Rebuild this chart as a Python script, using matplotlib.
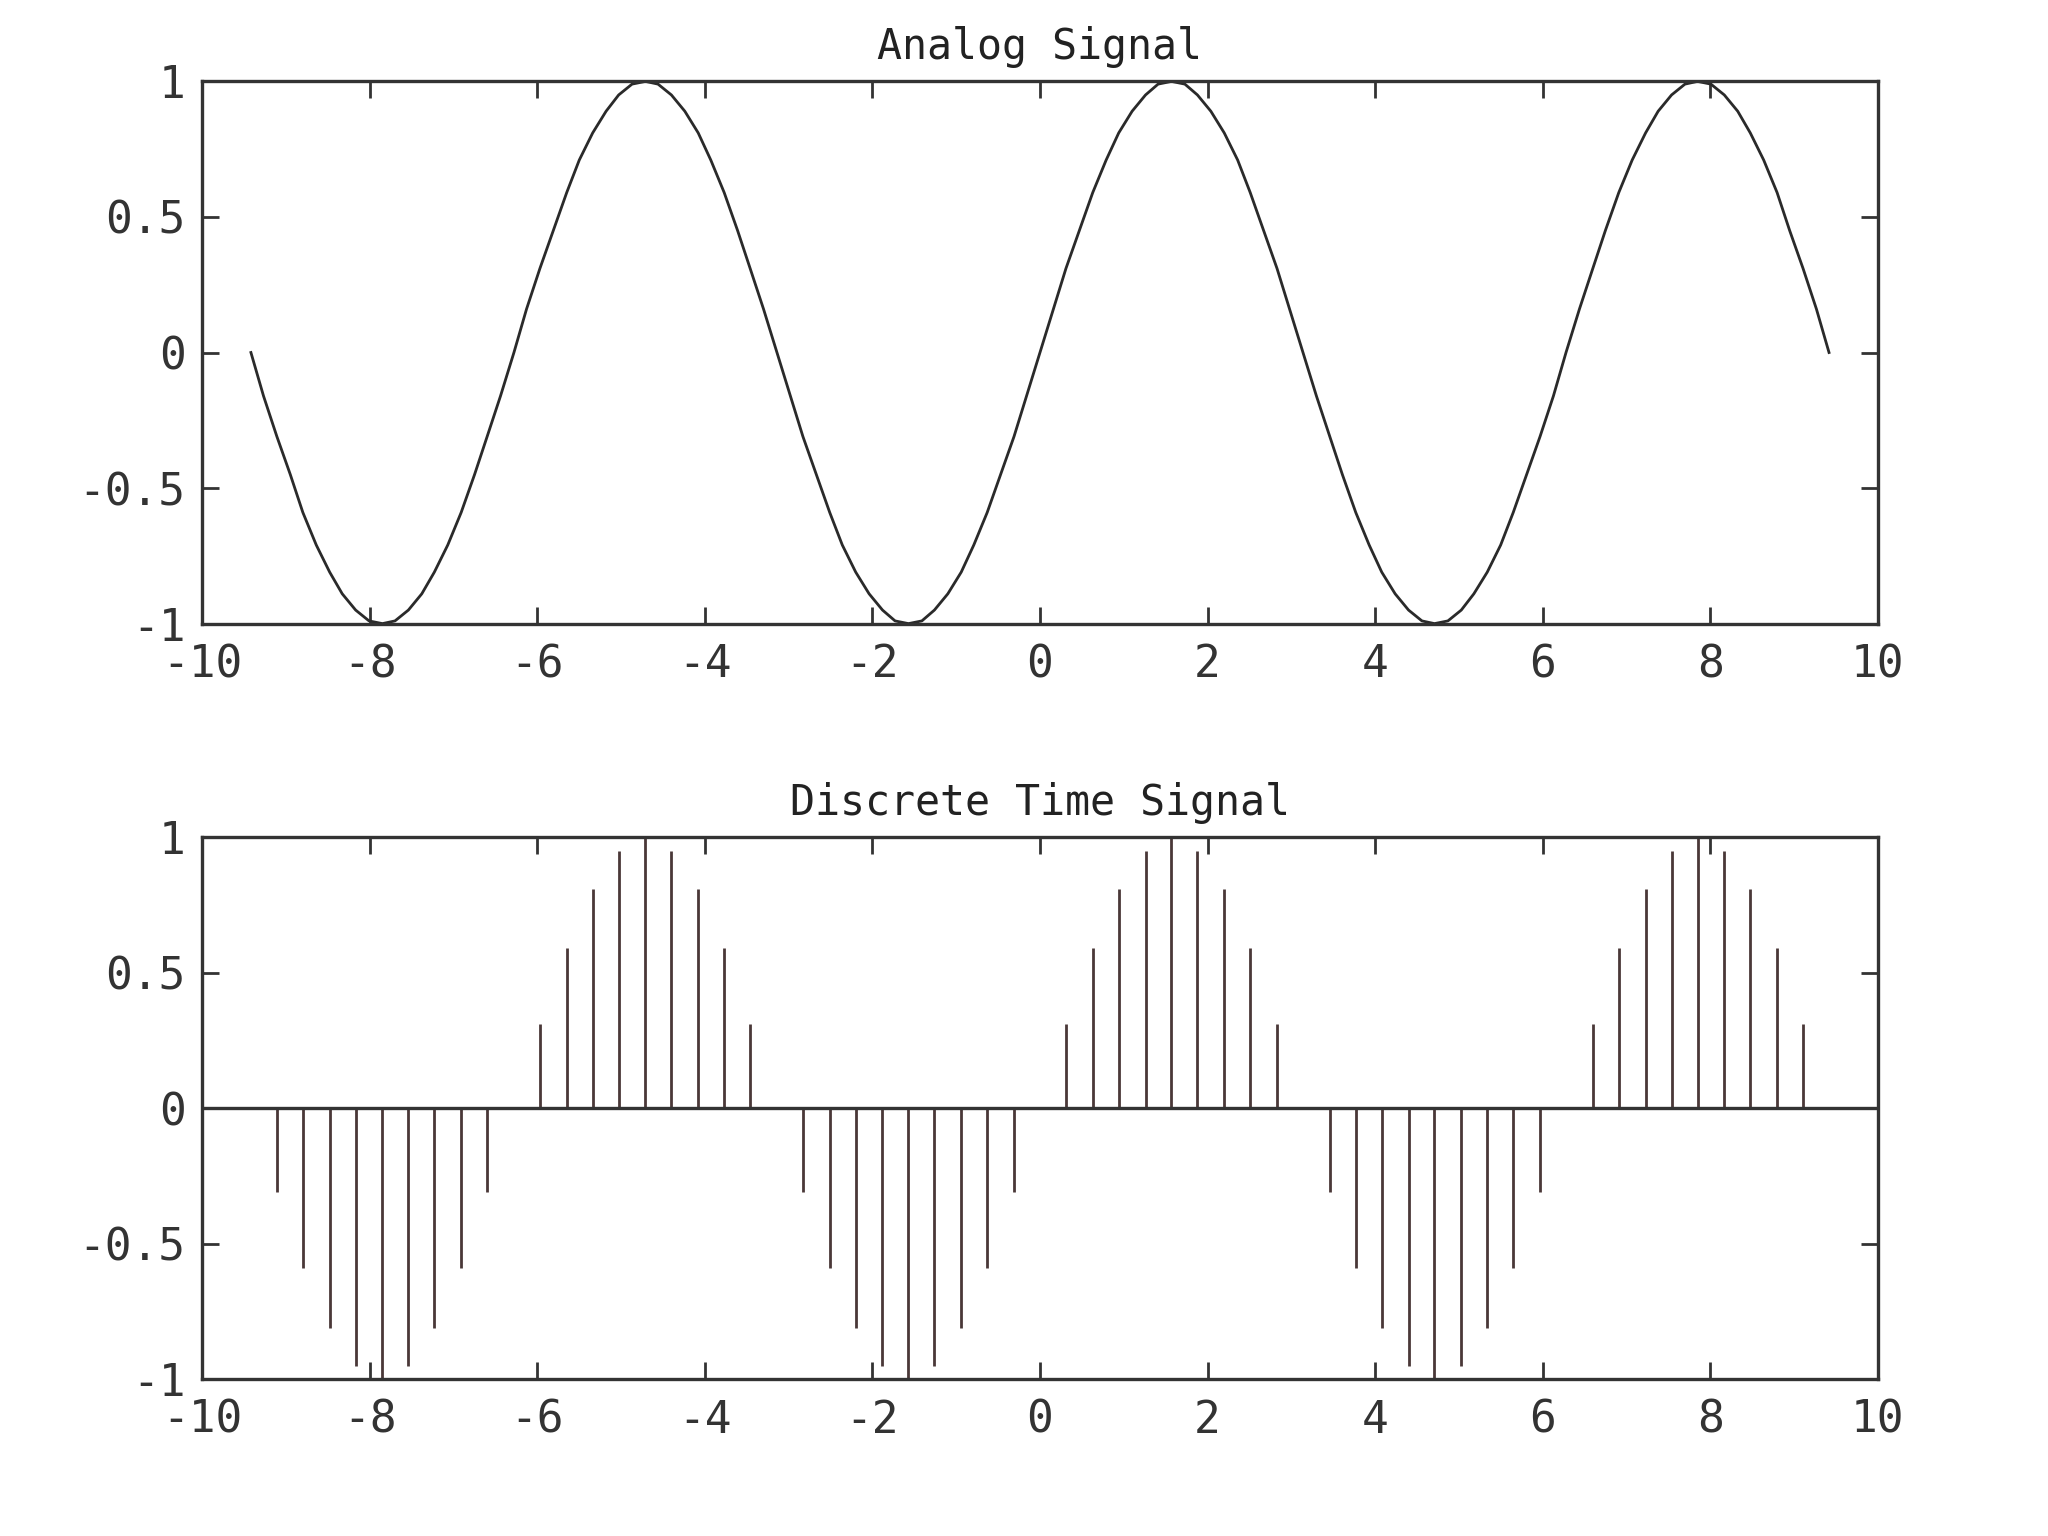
import matplotlib
matplotlib.use("Agg")
import matplotlib.pyplot as plt

# analog trace, read at steps of pi/20 from -3*pi to 3*pi
t_analog = [-9.42, -9.27, -9.11, -8.95, -8.80, -8.64, -8.48, -8.33, -8.17, -8.01,
            -7.85, -7.70, -7.54, -7.38, -7.23, -7.07, -6.91, -6.75, -6.60, -6.44,
            -6.28, -6.13, -5.97, -5.81, -5.65, -5.50, -5.34, -5.18, -5.03, -4.87,
            -4.71, -4.56, -4.40, -4.24, -4.08, -3.93, -3.77, -3.61, -3.46, -3.30,
            -3.14, -2.98, -2.83, -2.67, -2.51, -2.36, -2.20, -2.04, -1.88, -1.73,
            -1.57, -1.41, -1.26, -1.10, -0.94, -0.79, -0.63, -0.47, -0.31, -0.16,
            0.00, 0.16, 0.31, 0.47, 0.63, 0.79, 0.94, 1.10, 1.26, 1.41,
            1.57, 1.73, 1.88, 2.04, 2.20, 2.36, 2.51, 2.67, 2.83, 2.98,
            3.14, 3.30, 3.46, 3.61, 3.77, 3.93, 4.08, 4.24, 4.40, 4.56,
            4.71, 4.87, 5.03, 5.18, 5.34, 5.50, 5.65, 5.81, 5.97, 6.13,
            6.28, 6.44, 6.60, 6.75, 6.91, 7.07, 7.23, 7.38, 7.54, 7.70,
            7.85, 8.01, 8.17, 8.33, 8.48, 8.64, 8.80, 8.95, 9.11, 9.27, 9.42]
x_analog = [0.00, -0.16, -0.31, -0.45, -0.59, -0.71, -0.81, -0.89, -0.95, -0.99,
            -1.00, -0.99, -0.95, -0.89, -0.81, -0.71, -0.59, -0.45, -0.31, -0.16,
            0.00, 0.16, 0.31, 0.45, 0.59, 0.71, 0.81, 0.89, 0.95, 0.99,
            1.00, 0.99, 0.95, 0.89, 0.81, 0.71, 0.59, 0.45, 0.31, 0.16,
            0.00, -0.16, -0.31, -0.45, -0.59, -0.71, -0.81, -0.89, -0.95, -0.99,
            -1.00, -0.99, -0.95, -0.89, -0.81, -0.71, -0.59, -0.45, -0.31, -0.16,
            0.00, 0.16, 0.31, 0.45, 0.59, 0.71, 0.81, 0.89, 0.95, 0.99,
            1.00, 0.99, 0.95, 0.89, 0.81, 0.71, 0.59, 0.45, 0.31, 0.16,
            0.00, -0.16, -0.31, -0.45, -0.59, -0.71, -0.81, -0.89, -0.95, -0.99,
            -1.00, -0.99, -0.95, -0.89, -0.81, -0.71, -0.59, -0.45, -0.31, -0.16,
            0.00, 0.16, 0.31, 0.45, 0.59, 0.71, 0.81, 0.89, 0.95, 0.99,
            1.00, 0.99, 0.95, 0.89, 0.81, 0.71, 0.59, 0.45, 0.31, 0.16, 0.00]

# discrete samples at steps of pi/10
t = [-9.42, -9.11, -8.80, -8.48, -8.17, -7.85, -7.54, -7.23, -6.91, -6.60,
     -6.28, -5.97, -5.65, -5.34, -5.03, -4.71, -4.40, -4.08, -3.77, -3.46,
     -3.14, -2.83, -2.51, -2.20, -1.88, -1.57, -1.26, -0.94, -0.63, -0.31,
     0.00, 0.31, 0.63, 0.94, 1.26, 1.57, 1.88, 2.20, 2.51, 2.83,
     3.14, 3.46, 3.77, 4.08, 4.40, 4.71, 5.03, 5.34, 5.65, 5.97,
     6.28, 6.60, 6.91, 7.23, 7.54, 7.85, 8.17, 8.48, 8.80, 9.11, 9.42]
x = [0.00, -0.31, -0.59, -0.81, -0.95, -1.00, -0.95, -0.81, -0.59, -0.31,
     0.00, 0.31, 0.59, 0.81, 0.95, 1.00, 0.95, 0.81, 0.59, 0.31,
     0.00, -0.31, -0.59, -0.81, -0.95, -1.00, -0.95, -0.81, -0.59, -0.31,
     0.00, 0.31, 0.59, 0.81, 0.95, 1.00, 0.95, 0.81, 0.59, 0.31,
     0.00, -0.31, -0.59, -0.81, -0.95, -1.00, -0.95, -0.81, -0.59, -0.31,
     0.00, 0.31, 0.59, 0.81, 0.95, 1.00, 0.95, 0.81, 0.59, 0.31, 0.00]

x_ticks = [-10, -8, -6, -4, -2, 0, 2, 4, 6, 8, 10]
y_ticks = [-1, -0.5, 0, 0.5, 1]
y_labels = ["-1", "-0.5", "0", "0.5", "1"]

plt.rcParams['font.family'] = ['DejaVu Sans Mono', 'DejaVu Sans']
ink = '#333333'

fig = plt.figure(figsize=(20.48, 15.36), dpi=100)
ax1 = fig.add_axes([0.0988, 0.594, 0.818, 0.353])
ax2 = fig.add_axes([0.0988, 0.102, 0.818, 0.353])

ax1.plot(t_analog, x_analog, color='#2a2a2a', lw=2.0, clip_on=False)
ax1.set_title('Analog Signal', fontsize=30, color='#222222', pad=16)

ax2.vlines(t, 0, x, color='#4a3838', lw=2.0)
ax2.axhline(0, color=ink, lw=2.4)
ax2.set_title('Discrete Time Signal', fontsize=30, color='#222222', pad=16)

for ax in (ax1, ax2):
    ax.set_xlim(-10, 10)
    ax.set_ylim(-1, 1)
    ax.set_xticks(x_ticks)
    ax.set_xticklabels([str(v) for v in x_ticks])
    ax.set_yticks(y_ticks)
    ax.set_yticklabels(y_labels)
    ax.tick_params(direction='in', length=12, width=2, color=ink,
                   top=True, right=True, labelsize=32, labelcolor='#333333')
    ax.tick_params(axis='x', pad=14)
    ax.tick_params(axis='y', pad=12)
    for s in ax.spines.values():
        s.set_linewidth(2.4)
        s.set_color(ink)

fig.savefig('out.png', dpi=100)
